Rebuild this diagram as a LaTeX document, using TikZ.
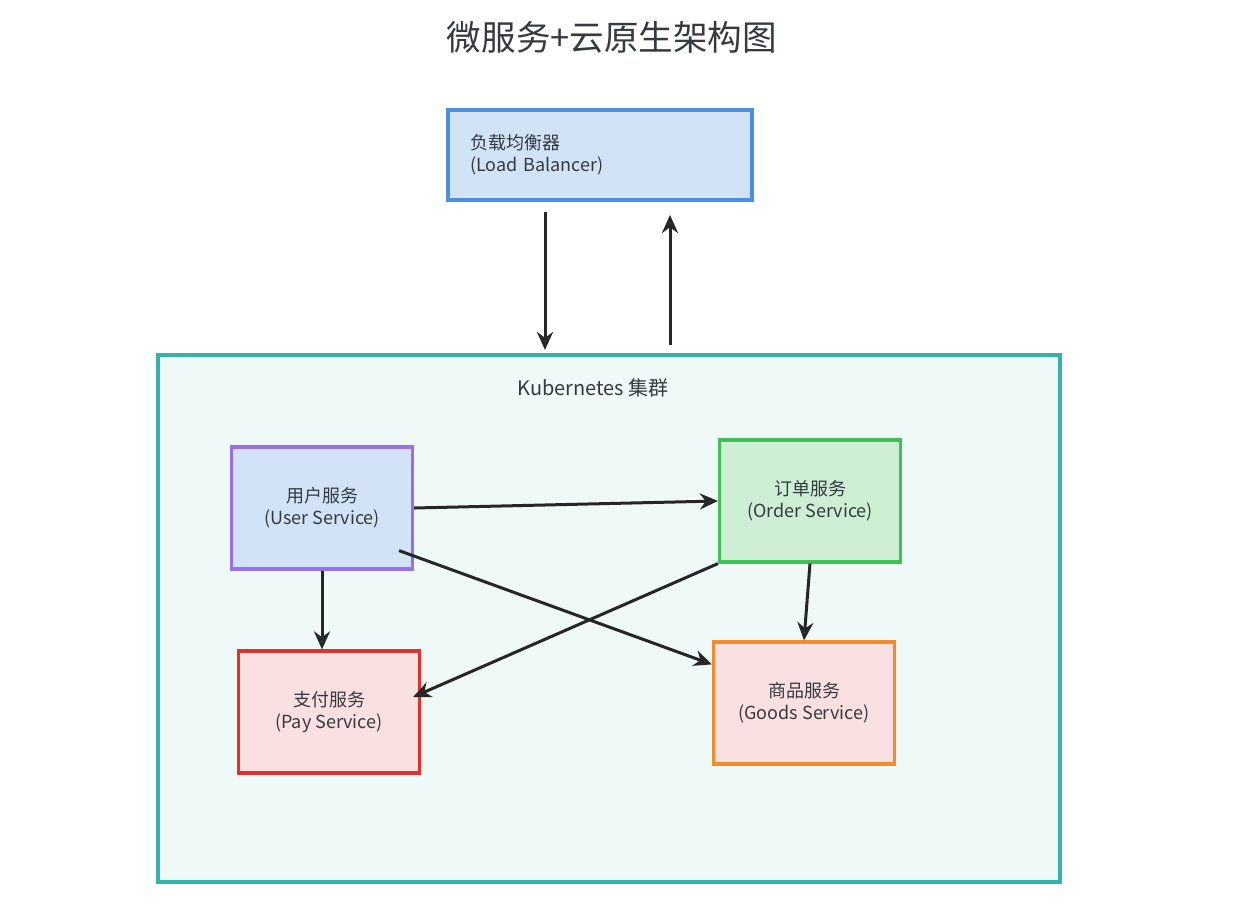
\documentclass[tikz,border=0pt]{standalone}
\usepackage{fontspec}
\setmainfont{Noto Sans CJK SC}
\usetikzlibrary{arrows.meta}
\definecolor{lbblue}{HTML}{4A90E2}
\definecolor{kteal}{HTML}{36B3A8}
\definecolor{upurple}{HTML}{9B6FE8}
\definecolor{ogreen}{HTML}{40C057}
\definecolor{pred}{HTML}{E03131}
\definecolor{gorange}{HTML}{F08C2E}
\definecolor{txt}{HTML}{343A40}
\tikzset{
  svc/.style={draw=#1, line width=1.6pt, minimum width=90.5pt, minimum height=61pt, align=center, font=\small, text=txt},
  flow/.style={draw=black!85, line width=1.5pt, -{Stealth[length=9pt,width=8pt,open]}},
}
\begin{document}
\begin{tikzpicture}[x=0.5pt,y=-0.5pt]
    \useasboundingbox (0,0) rectangle (1233,912);
    \node[text=txt, font=\LARGE] (title) at (612,37) {微服务+云原生架构图};
    % load balancer
    \node[svc=lbblue, fill=lbblue!25, minimum width=152pt, minimum height=45pt, align=left, text width=130pt] (lb) at (600,155) {负载均衡器\\(Load Balancer)};
    % cluster
    \draw[kteal, line width=1.6pt, fill=kteal!8] (158,355) rectangle (1060,882);
    \node[text=txt] (k8s) at (593,388) {Kubernetes 集群};
    % services
    \node[svc=upurple, fill=lbblue!25] (user) at (322,508) {用户服务\\(User Service)};
    \node[svc=ogreen, fill=ogreen!25] (order) at (810,501) {订单服务\\(Order Service)};
    \node[svc=pred, fill=pred!15] (pay) at (329,712) {支付服务\\(Pay Service)};
    \node[svc=gorange, fill=pred!15] (goods) at (804,703) {商品服务\\(Goods Service)};
    % connectors
    \coordinate (lbdown) at (545,212);
    \coordinate (kin) at (545,350);
    \coordinate (kout) at (670,345);
    \coordinate (lbup) at (670,215);
    \draw[flow] (lbdown) -- (kin);
    \draw[flow] (kout) -- (lbup);
    \draw[flow] (user.east) -- (order.west);
    \draw[flow] (user.south) -- (pay.north -| user.south);
    \draw[flow] (user.south east) ++(-15,-20) -- ([yshift=-12pt]goods.north west);
    \draw[flow] (order.south west) -- ([xshift=-4pt,yshift=7.5pt]pay.east);
    \draw[flow] (order.south) -- (goods.north);
\end{tikzpicture}
\end{document}
